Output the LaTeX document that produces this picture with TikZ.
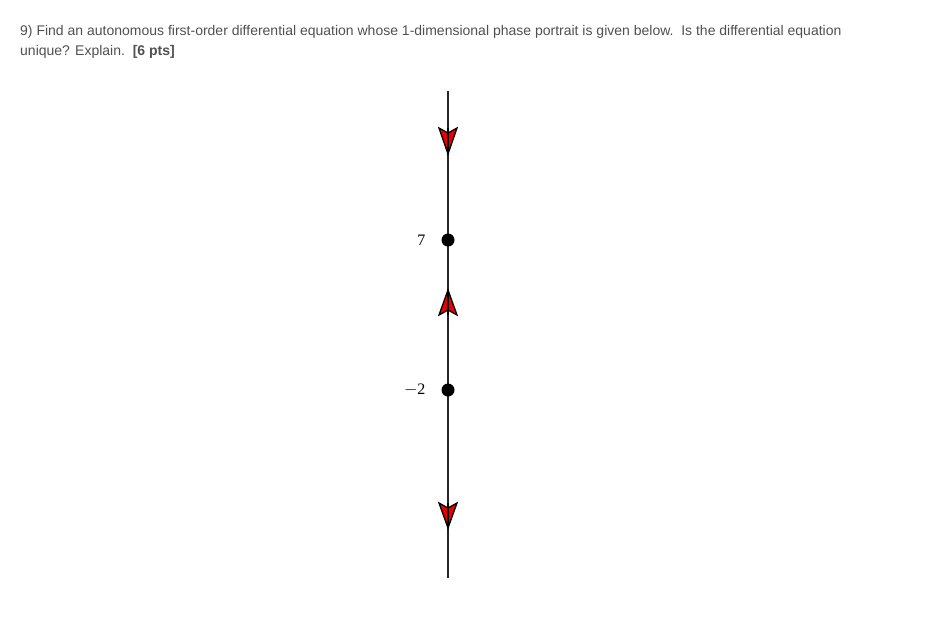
\documentclass[tikz,border=0pt]{standalone}
\usepackage{fontspec}
\setmainfont{Liberation Sans}
\newfontfamily\labelfont{Liberation Serif}
\usetikzlibrary{calc}
\definecolor{textgray}{RGB}{80,80,80}
\definecolor{arrowred}{RGB}{235,0,0}
\tikzset{
  flowarrow/.style={fill=arrowred,draw=black,line width=1.3pt,line join=miter},
  eqpoint/.style={circle,fill=black,inner sep=0pt,minimum size=13pt},
  eqlabel/.style={left=19pt,font=\labelfont\fontsize{16}{16}\selectfont}
}
\begin{document}
\begin{tikzpicture}[x=1pt,y=-1pt]
\useasboundingbox (0,0) rectangle (951,630);
\node[anchor=base west,text=textgray,font=\fontsize{14}{14}\selectfont,inner sep=0pt] (q1) at (20,35)
  {9) Find an autonomous first-order differential equation whose 1-dimensional phase portrait is given below.\ \ Is the differential equation};
\node[anchor=base west,text=textgray,font=\fontsize{14}{14}\selectfont,inner sep=0pt] (q2) at (20,55)
  {unique? Explain.\ \ \textbf{[6 pts]}};
\coordinate (top) at (448,91);
\coordinate (bot) at (448,578);
\draw[line width=1.4pt,black!85] (top) -- (bot);
% arrows along the line
\draw[flowarrow] (448,154) -- (439,128) -- (448,133) -- (457,128) -- cycle;
\draw[flowarrow] (448,290) -- (439,315) -- (448,310) -- (457,315) -- cycle;
\draw[flowarrow] (448,528) -- (439,503) -- (448,508) -- (457,503) -- cycle;
\draw[line width=1.2pt] (448,128) -- (448,154) (448,290) -- (448,315) (448,503) -- (448,528);
% equilibria
\node[eqpoint] (e7) at (448,240) {};
\node[eqpoint] (em2) at (448,390) {};
\node[eqlabel] at (e7) {7};
\node[eqlabel] at (em2) {$-$2};
\end{tikzpicture}
\end{document}
